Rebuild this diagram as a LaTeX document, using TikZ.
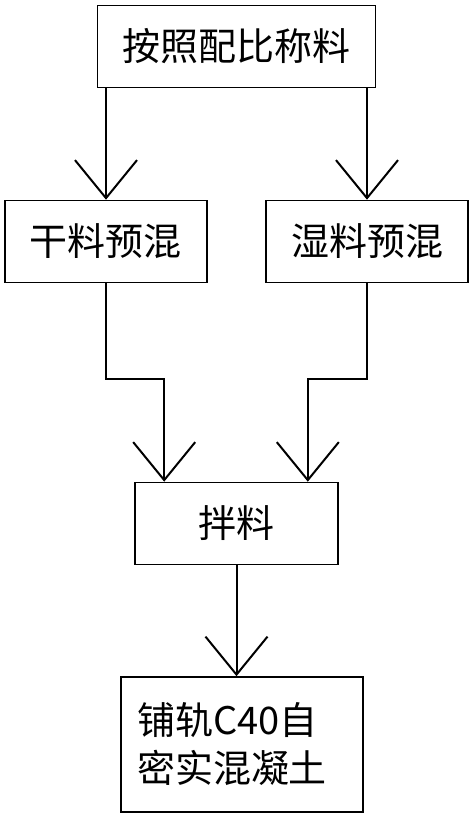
\documentclass[tikz,border=0pt]{standalone}
\usepackage{fontspec}
\usepackage{tikz}
\usetikzlibrary{arrows.meta, positioning}
\newfontfamily\cjk{Noto Sans CJK SC}
\tikzset{every node/.append style={align=center}}
\tikzset{
  stage/.style={rectangle, draw=black, line width=1.6pt, inner sep=0pt,
    minimum height=82pt, font=\cjk\fontsize{38pt}{48pt}\selectfont},
  flow/.style={-{Straight Barb[length=38pt, width=62pt]}, line width=2pt}
}
\begin{document}
\begin{tikzpicture}[x=1pt, y=1pt]
  \useasboundingbox (0,0) rectangle (474,-815);
  \node[stage, minimum width=278pt] (weigh) at (236.5,-46.5) {按照配比称料};
  \node[stage, minimum width=202pt] (dry) at (106,-241.5) {干料预混};
  \node[stage, minimum width=202pt] (wet) at (367,-241.5) {湿料预混};
  \node[stage, minimum width=203pt] (mix) at (236.5,-523.5) {拌料};
  \node[stage, minimum width=242pt, minimum height=135pt, align=left,
    inner xsep=16pt, text width=210pt] (concrete) at (242,-744.5) {铺轨C40自\\密实混凝土};
  \draw[flow] (dry.north |- weigh.south) -- (dry.north);
  \draw[flow] (wet.north |- weigh.south) -- (wet.north);
  \draw[flow] (dry.south) -- ++(0,-96) -| ([xshift=30pt]mix.north west);
  \draw[flow] (wet.south) -- ++(0,-96) -| ([xshift=-31pt]mix.north east);
  \draw[flow] (mix.south) -- (mix.south |- concrete.north);
\end{tikzpicture}
\end{document}
